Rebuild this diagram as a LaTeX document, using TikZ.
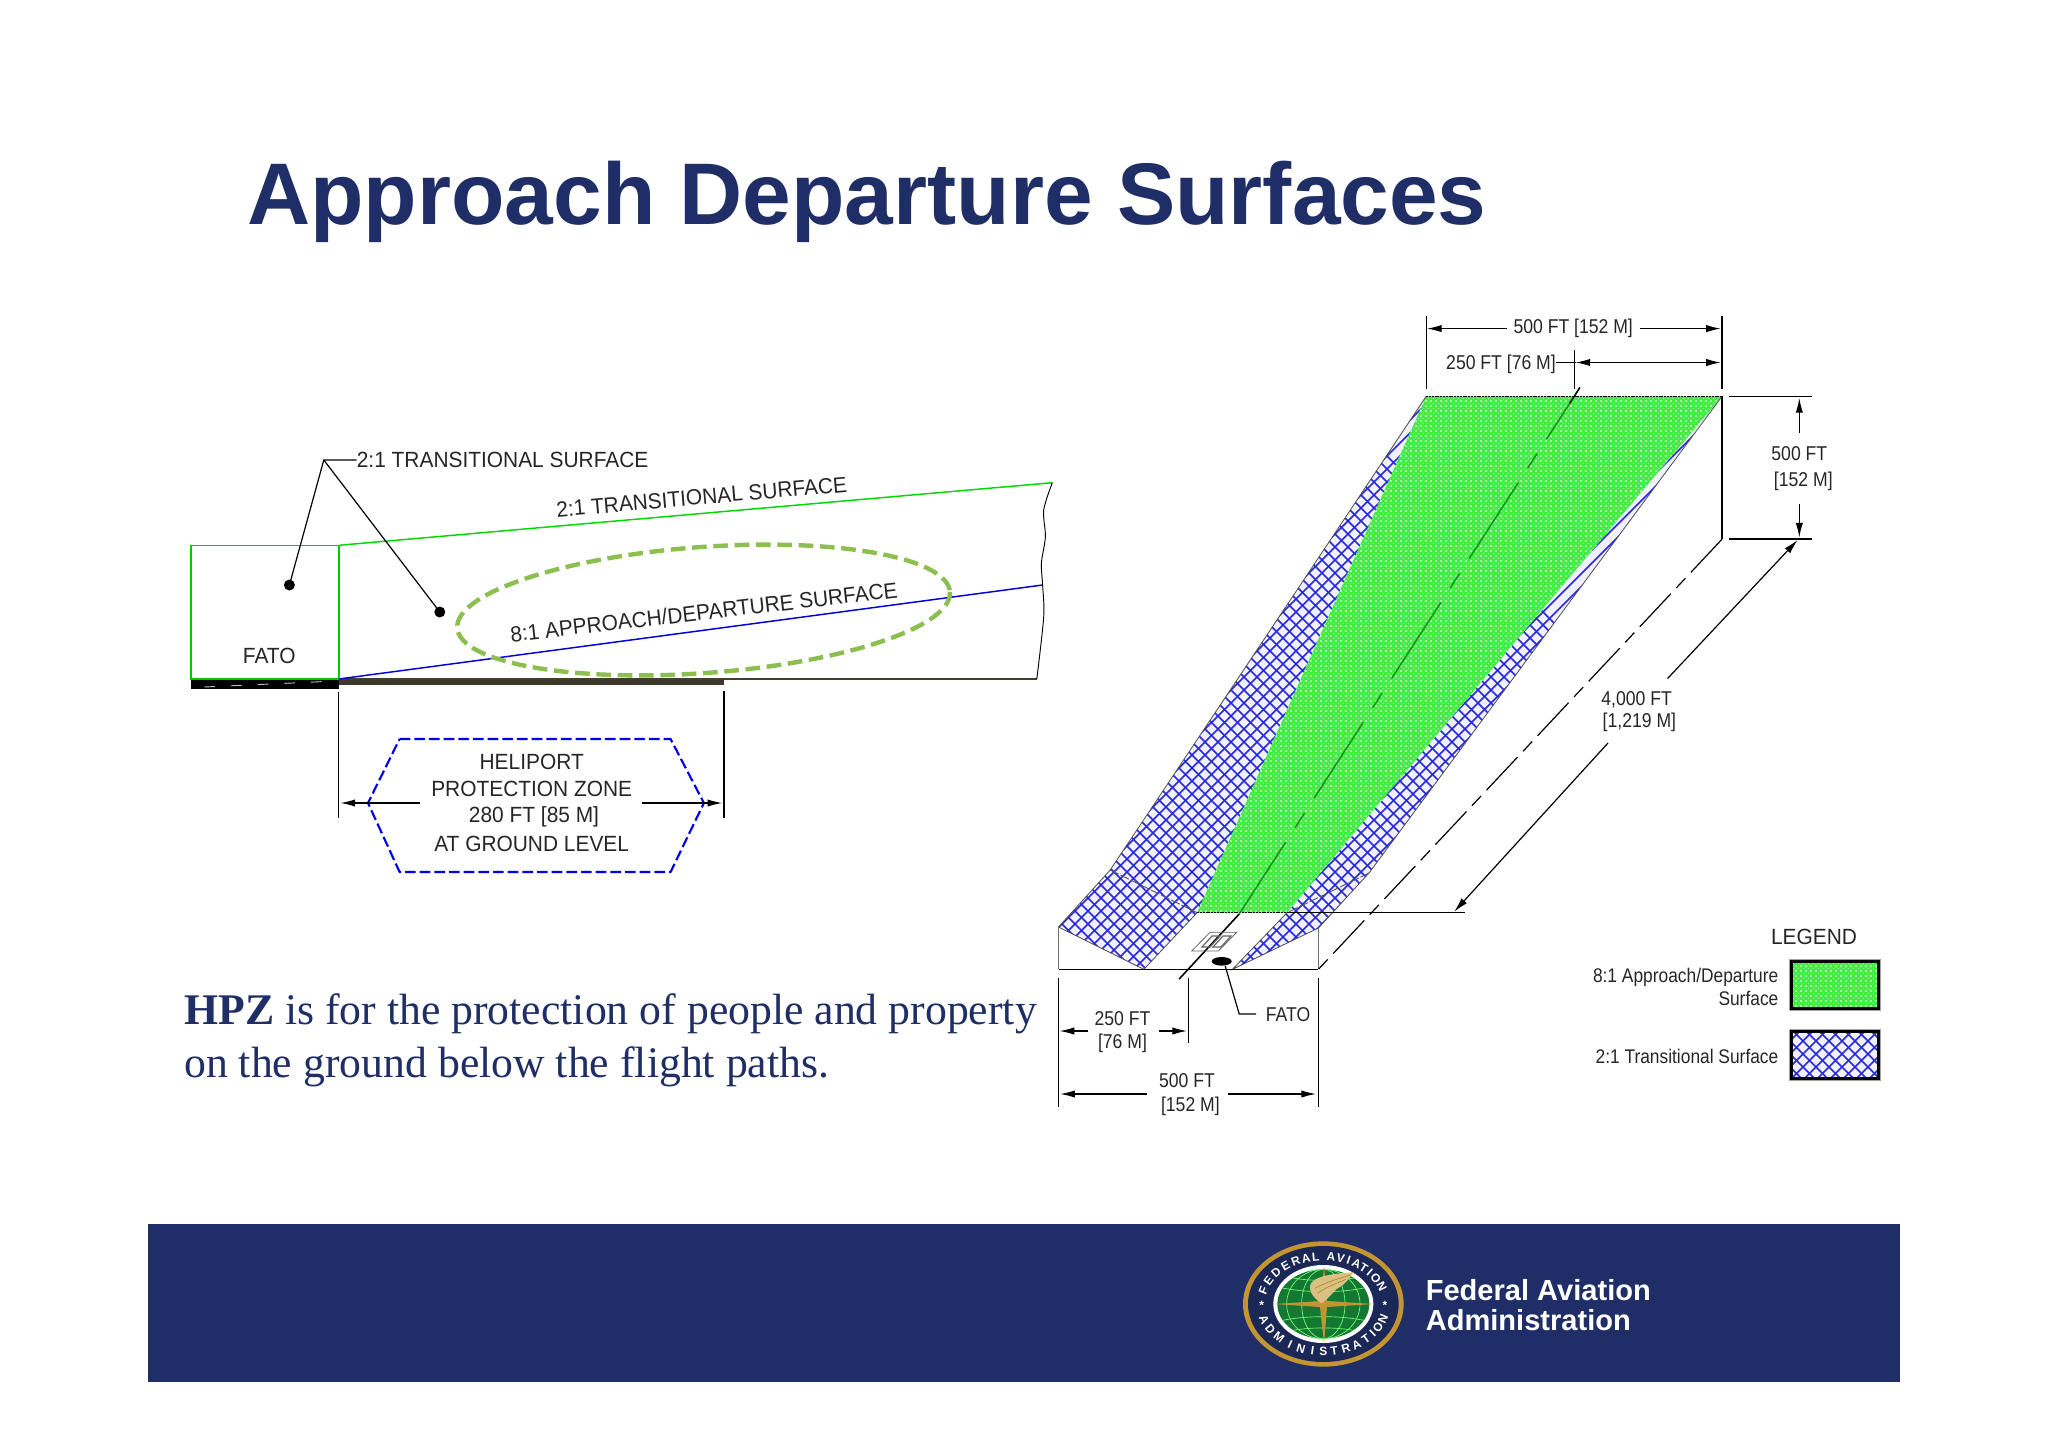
\documentclass[tikz,border=0pt]{standalone}
\usepackage{fontspec}
\setmainfont{Liberation Serif}
\newfontfamily\ttlfont{Liberation Sans}
\newfontfamily\labfont[FakeStretch=0.88]{Liberation Sans}
\newfontfamily\capfont[FakeStretch=0.95]{Liberation Sans}
\usetikzlibrary{arrows.meta,calc}
\definecolor{navy}{RGB}{31,46,102}
\definecolor{hatchblue}{RGB}{40,40,220}
\definecolor{hatchbg}{RGB}{240,240,255}
\definecolor{surfgreen}{RGB}{66,236,66}
\definecolor{dotgreen}{RGB}{170,248,170}
\definecolor{ovalgreen}{RGB}{140,190,80}
\definecolor{gold}{RGB}{196,148,50}
\definecolor{wing}{RGB}{218,192,130}
\definecolor{sealgreen}{RGB}{20,120,50}
\definecolor{cline}{RGB}{20,140,30}
\newcommand{\bluefill}[1]{\begin{scope}\clip #1;
  \fill[hatchbg] (1000,300) rectangle (1900,1100);
  \foreach \c in {60,73,...,940} \draw[hatchblue,line width=1.25pt] ({\c+300},300) -- ({\c+1100},1100);
  \foreach \s in {1440,1453,...,2964} \draw[hatchblue,line width=1.25pt] ({\s-300},300) -- ({\s-1100},1100);
\end{scope}}
% clip path, first row, second row of the same kind, last row
\newcommand{\greenfill}[4]{\begin{scope}\clip #1;
  \fill[surfgreen] (1000,300) rectangle (1900,1100);
  \foreach \r in {#2,#3,...,#4} {
    \draw[dotgreen,line width=1.2pt,dash pattern=on 1.2pt off 2.55pt] (1100,\r) -- (1900,\r);
    \draw[dotgreen,line width=1.2pt,dash pattern=on 1.2pt off 2.55pt] (1102.5,{\r+2.5}) -- (1900,{\r+2.5});
  }
\end{scope}}
\tikzset{
  lab/.style={font=\capfont\fontsize{16.5}{19}\selectfont,inner sep=0pt,text=black!85},
  dimlab/.style={font=\labfont\fontsize{15}{18}\selectfont,inner sep=0pt,text=black!85},
  leglab/.style={font=\labfont\fontsize{14.8}{17}\selectfont,inner sep=0pt,text=black!85,anchor=east},
  thinln/.style={black,line width=0.9pt},
  dimarrow/.style={black,line width=0.9pt,-{Latex[length=11pt,width=5.5pt]}},
  sealch/.style={text=white,inner sep=0pt,font=\ttlfont\bfseries\fontsize{9}{9}\selectfont},
  globeln/.style={green!55!white,line width=0.5pt}
}
\begin{document}
\begin{tikzpicture}[x=0.75pt,y=-0.75pt]
\useasboundingbox (0,0) rectangle (2048,1448);
\fill[white] (0,0) rectangle (2048,1448);

% Title
\node[anchor=base west,inner sep=0pt,text=navy,font=\ttlfont\bfseries\fontsize{65.6}{70}\selectfont] (title) at (247,224.6) {Approach Departure Surfaces};

% ---------- left elevation ----------
\coordinate (fA) at (191.2,545.3);
\coordinate (fB) at (338.8,545.3);
\coordinate (fC) at (338.8,679);
\coordinate (fD) at (191.2,679);
\coordinate (gEnd) at (1052.3,482.7);
\coordinate (bEnd) at (1042.6,585);
\coordinate (groundEnd) at (1036.8,679);
\coordinate (hpzEnd) at (724,679);
\draw[green!80!black,line width=1.1pt] (fA) rectangle (fC);
\fill[black] (191.2,680) rectangle (338.8,689);
\draw[white!75!black,line width=0.7pt,dash pattern=on 8pt off 12pt] (204.4,687) -- (325,681.5);
\fill[black!75!olive] (338.8,678) rectangle (724,685);
\draw[black!70!olive,line width=1pt] (fC) -- (groundEnd);
\draw[green!85!black,line width=1.1pt] (fB) -- (gEnd);
\draw[blue!85!black,line width=1.1pt] (fC) -- (bEnd);
\draw[black,line width=0.7pt] plot[smooth] coordinates {(gEnd) (1043.7,510) (1045.4,536.7) (1041.4,563) (bEnd) (1043.7,616.7) (groundEnd)};
\draw[ovalgreen,line width=3.3pt,dash pattern=on 11pt off 5pt,rotate around={4.2:(703.6,610)}] (703.6,610) ellipse [x radius=247,y radius=63];
\node[lab,rotate=5] (trans2) at (701.6,497) {2:1 TRANSITIONAL SURFACE};
\node[lab,rotate=6.6] (appr) at (703.9,612) {8:1 APPROACH/DEPARTURE SURFACE};
\node[lab] (fatoL) at (269.3,655.7) {FATO};

\node[lab,anchor=west] (trans1) at (356.6,460) {2:1 TRANSITIONAL SURFACE};
\coordinate (lj) at (323.8,460);
\fill[black] (289.4,585) ellipse [x radius=5.5,y radius=5.5];
\fill[black] (439.8,612) ellipse [x radius=5.5,y radius=5.5];
\coordinate (dot1) at (289.4,585);
\coordinate (dot2) at (439.8,612);
\draw[thinln] (trans1.west) -- (lj) -- (dot1);
\draw[thinln] (lj) -- (dot2);

\coordinate (dl1) at (338.8,692);\coordinate (dl2) at (338.8,818);
\coordinate (dr1) at (724,691);\coordinate (dr2) at (724,818);
\draw[thinln] (dl1) -- (dl2);
\draw[thinln] (dr1) -- (dr2);
\draw[blue!90!black,line width=1.6pt,dash pattern=on 8pt off 3pt,line join=round] (399.6,739) -- (670.6,739) -- (703.9,803) -- (670.6,872) -- (399.6,872) -- (368,803) -- cycle;
\coordinate (al) at (340.5,803);\coordinate (ar) at (722.2,803);
\coordinate (al0) at (420.3,803);\coordinate (ar0) at (642.4,803);
\draw[dimarrow] (al0) -- (al);
\draw[dimarrow] (ar0) -- (ar);
\node[lab] (h1) at (531.7,761.5) {HELIPORT};
\node[lab] (h2) at (531.7,789.2) {PROTECTION ZONE};
\node[lab] (h3) at (534,817.2) {280 FT [85 M]};
\node[lab] (h4) at (531.7,843.8) {AT GROUND LEVEL};

% HPZ text
\node[anchor=base west,inner sep=0pt,text=navy,font=\fontsize{32.8}{40}\selectfont] (hpz1) at (184,1024) {\textbf{HPZ} is for the protection of people and property};
\node[anchor=base west,inner sep=0pt,text=navy,font=\fontsize{32.8}{40}\selectfont] (hpz2) at (184,1077.5) {on the ground below the flight paths.};

% ---------- right plan ----------
\coordinate (gTL) at (1426.1,396.4);
\coordinate (gTR) at (1721.9,396.4);
\coordinate (gBL) at (1197.1,912.7);
\coordinate (gBR) at (1287,912.7);
\coordinate (lKnee) at (1110.2,870);
\coordinate (lOut) at (1058.5,927);
\coordinate (lBot) at (1143.8,969.3);
\coordinate (rKnee) at (1369,873);
\coordinate (rOut) at (1318.4,928);
\coordinate (rBot) at (1232.5,969.3);
\coordinate (bBL) at (1058.5,969.3);
\coordinate (bBR) at (1318.4,969.3);

\bluefill{(gTL) -- (lKnee) -- (lOut) -- (lBot) -- (gBL) -- cycle}
\bluefill{(gTR) -- (rKnee) -- (rOut) -- (rBot) -- (gBR) -- cycle}
\greenfill{(gTL) -- (gTR) -- (gBR) -- (gBL) -- cycle}{396}{401}{916}
\draw[black!70,line width=0.6pt] (gTL) -- (lKnee) -- (lOut) -- (lBot) -- (gBL);
\draw[black!70,line width=0.6pt] (gTR) -- (rKnee) -- (rOut) -- (rBot) -- (gBR);
\draw[black!65,line width=0.7pt,dash pattern=on 7pt off 1.5pt] (lKnee) -- (gBL);
\draw[black!65,line width=0.7pt,dash pattern=on 7pt off 1.5pt] (rKnee) -- (gBR);
\draw[black!55,line width=0.6pt] (lOut) -- (bBL);
\draw[black!55,line width=0.6pt] (rOut) -- (bBR);
\draw[black,line width=1.2pt] (bBL) -- (bBR);
\draw[black,line width=1.1pt,dash pattern=on 1.6pt off 0.5pt] (gTL) -- (gTR);
\draw[black,line width=1.1pt,dash pattern=on 1.6pt off 0.5pt] (gBL) -- (gBR);
\coordinate (hEnd) at (1464.9,912.7);
\draw[black,line width=1.1pt] (gBR) -- (hEnd);
% centre line
\coordinate (cTop) at (1579.9,387.5);
\coordinate (cBend) at (1239.2,914);
\coordinate (cBot) at (1179.2,979);
\draw[cline,line width=1.1pt,dash pattern=on 68pt off 13pt on 13pt off 13pt,dash phase=22pt] (cTop) -- (cBend);
\draw[black,line width=1pt] (cTop) -- ($(cTop)!0.03!(cBend)$);
\draw[black,line width=1.2pt] (cBend) -- (cBot);
% helipad
\draw[black!60,line width=0.6pt] (1210,932.3) -- (1236.7,932.3) -- (1218.3,951) -- (1191.7,951) -- cycle;
\draw[black!60,line width=0.9pt] (1212,936) -- (1220,936) -- (1210,947) -- (1202,947) -- cycle;
\draw[black!60,line width=0.9pt] (1223,936) -- (1231,936) -- (1221,947) -- (1213,947) -- cycle;
% FATO
\coordinate (fatoPad) at (1221.7,961.3);
\fill[black] (fatoPad) ellipse [x radius=10,y radius=4.3];
\coordinate (fk) at (1239.2,1014);
\node[dimlab,anchor=west] (fatoR) at (1265.6,1014.6) {FATO};
\coordinate (fs) at (1225.2,966);
\coordinate (fe) at (1256,1014);
\draw[thinln] (fs) -- (fk) -- (fe);
% long dash-dot
\coordinate (rvB) at (1721.9,539.3);
\draw[black,line width=0.9pt,dash pattern=on 34pt off 6pt on 10pt off 6pt] (rvB) -- (bBR);
% top dims
\coordinate (v1a) at (1426.1,316);\coordinate (v1b) at (1426.1,388.6);
\coordinate (v2a) at (1721.9,316);\coordinate (v2b) at (1721.9,388.6);
\coordinate (v3a) at (1574.3,350);\coordinate (v3b) at (1574.3,388.6);
\draw[thinln] (v1a) -- (v1b);
\draw[thinln] (v2a) -- (v2b);
\draw[thinln] (v3a) -- (v3b);
\node[dimlab] (d500) at (1573.2,328.6) {500 FT [152 M]};
\coordinate (d500l) at (1427,328.6);
\coordinate (d500r) at (1720.8,328.6);
\draw[dimarrow] ([xshift=-5pt]d500.west) -- (d500l);
\draw[dimarrow] ([xshift=5pt]d500.east) -- (d500r);
\node[dimlab] (d250) at (1501,364) {250 FT [76 M]};
\coordinate (a250L) at (1575.5,362.5);
\coordinate (a250R) at (1720.8,362.5);
\draw[thinln] (d250.east |- a250L) -- (a250L);
\draw[black,line width=0.9pt,{Latex[length=11pt,width=5.5pt]}-{Latex[length=11pt,width=5.5pt]}] (a250L) -- (a250R);
% right dim
\draw[thinln] (gTR) -- (rvB);
\coordinate (tk1a) at (1729.2,396.4);\coordinate (tk1b) at (1812.3,396.4);
\coordinate (tk2a) at (1729.2,539.3);\coordinate (tk2b) at (1812.3,539.3);
\draw[black,line width=1.1pt] (tk1a) -- (tk1b);
\draw[black,line width=1.3pt] (tk2a) -- (tk2b);
\node[dimlab] (r500a) at (1799.3,453.6) {500 FT};
\node[dimlab] (r500b) at (1803.3,481) {[152 M]};
\coordinate (ua) at (1799.3,433);\coordinate (ub) at (1799.3,398);
\coordinate (da) at (1799.3,504);\coordinate (db) at (1799.3,537.5);
\draw[dimarrow] (ua) -- (ub);
\draw[dimarrow] (da) -- (db);
% 4000 ft
\coordinate (k1a) at (1667.5,678.6);\coordinate (k1b) at (1797.6,540);
\coordinate (k2a) at (1608,743);\coordinate (k2b) at (1454.2,911.7);
\draw[dimarrow] (k1a) -- (k1b);
\draw[dimarrow] (k2a) -- (k2b);
\node[dimlab] (k4a) at (1636.6,699.3) {4,000 FT};
\node[dimlab] (k4b) at (1639.4,722.7) {[1,219 M]};
% bottom dims
\coordinate (w1a) at (1058.5,978);\coordinate (w1b) at (1058.5,1107);
\coordinate (w2a) at (1188.7,978);\coordinate (w2b) at (1188.7,1043);
\coordinate (w3a) at (1318.4,978);\coordinate (w3b) at (1318.4,1107);
\draw[thinln] (w1a) -- (w1b);
\draw[thinln] (w2a) -- (w2b);
\draw[thinln] (w3a) -- (w3b);
\node[dimlab] (b250a) at (1122.5,1019) {250 FT};
\node[dimlab] (b250b) at (1122.5,1043) {[76 M]};
\coordinate (q1a) at (1087.7,1031);\coordinate (q1b) at (1059.6,1031);
\coordinate (q2a) at (1159,1031);\coordinate (q2b) at (1187,1031);
\draw[dimarrow] (q1a) -- (q1b);
\draw[dimarrow] (q2a) -- (q2b);
\node[dimlab] (b500a) at (1187,1081) {500 FT};
\node[dimlab] (b500b) at (1190.4,1106) {[152 M]};
\coordinate (p1a) at (1146.6,1094);\coordinate (p1b) at (1060.2,1094);
\coordinate (p2a) at (1228,1094);\coordinate (p2b) at (1316,1094);
\draw[dimarrow] (p1a) -- (p1b);
\draw[dimarrow] (p2a) -- (p2b);

% Legend
\node[lab] (legendT) at (1814,936.5) {LEGEND};
\greenfill{(1791,961) rectangle (1879,1009)}{961}{966}{1009}
\draw[black!35,line width=1pt] (1790,960) rectangle (1880,1010);
\draw[black,line width=2pt] (1791.5,961.5) rectangle (1878.5,1008.5);
\bluefill{(1791,1031) rectangle (1879,1079)}
\draw[black!35,line width=1pt] (1790,1030) rectangle (1880,1080);
\draw[black,line width=2pt] (1791.5,1031.5) rectangle (1878.5,1078.5);
\node[leglab] (l1) at (1778.6,977) {8:1 Approach/Departure};
\node[leglab] (l2) at (1778.6,998.5) {Surface};
\node[leglab] (l3) at (1778.6,1056) {2:1 Transitional Surface};

% Banner
\fill[navy] (148.3,1224) rectangle (1900,1381.5);
\node[anchor=base west,inner sep=0pt,text=white,font=\ttlfont\bfseries\fontsize{21.8}{26}\selectfont] (faa1) at (1425.5,1300) {Federal Aviation};
\node[anchor=base west,inner sep=0pt,text=white,font=\ttlfont\bfseries\fontsize{21.8}{26}\selectfont] (faa2) at (1425.5,1330) {Administration};

% Seal (drawn in crop units: 3 units per pixel)
\begin{scope}[x=0.25pt,y=-0.25pt,xshift=915pt,yshift=-915pt]
\fill[gold] (310,252) ellipse [x radius=241,y radius=188];
\fill[navy!85!black] (310,252) ellipse [x radius=226,y radius=174];
\fill[white] (310,252) ellipse [x radius=150,y radius=117];
\fill[sealgreen] (310,252) ellipse [x radius=138,y radius=104];
\begin{scope}
\clip (310,252) ellipse [x radius=138,y radius=104];
\draw[globeln] (310,252) ellipse [x radius=65,y radius=104];
\draw[globeln] (310,252) ellipse [x radius=110,y radius=104];
\draw[globeln] (170,200) .. controls (250,220) and (370,220) .. (450,200);
\draw[globeln] (170,305) .. controls (250,285) and (370,285) .. (450,305);
\draw[globeln] (200,170) .. controls (260,185) and (360,185) .. (420,170);
\draw[globeln] (200,335) .. controls (260,320) and (360,320) .. (420,335);
\end{scope}
\fill[gold] (312,135) -- (321,243) -- (462,252) -- (321,261) -- (312,372) -- (300,261) -- (163,252) -- (303,243) -- cycle;
\fill[wing] (400,157) .. controls (350,160) and (295,165) .. (275,187) .. controls (260,207) and (280,235) .. (305,250) .. controls (325,235) and (335,222) .. (350,207) .. controls (368,198) and (388,178) .. (400,157) -- cycle;
\draw[gold!90!black,line width=0.5pt] (285,205) .. controls (320,185) and (360,175) .. (390,165);
\draw[gold!90!black,line width=0.5pt] (292,220) .. controls (320,200) and (350,190) .. (378,178);
\foreach \ch/\t in {F/163,E/151,D/139,E/127,R/116,A/106,L/97,A/83,V/74,I/66,A/58,T/50,I/42,O/33,N/21} {
  \pgfmathsetmacro\rr{atan2(sin(\t)/143,cos(\t)/188)-90}
  \node[sealch,rotate=\rr] (top\t) at ({310+188*cos(\t)},{252-143*sin(\t)}) {\ch};
}
\foreach \ch/\t in {A/199,D/212,M/225,I/238,N/249,I/260,S/270,T/280,R/291,A/302,T/313,I/322,O/331,N/342} {
  \pgfmathsetmacro\rr{atan2(sin(\t)/143,cos(\t)/188)+90}
  \node[sealch,rotate=\rr] (bot\t) at ({310+188*cos(\t)},{252-143*sin(\t)}) {\ch};
}
\node[sealch] (st1) at (125,256) {*};
\node[sealch] (st2) at (495,256) {*};
\end{scope}
\end{tikzpicture}
\end{document}
